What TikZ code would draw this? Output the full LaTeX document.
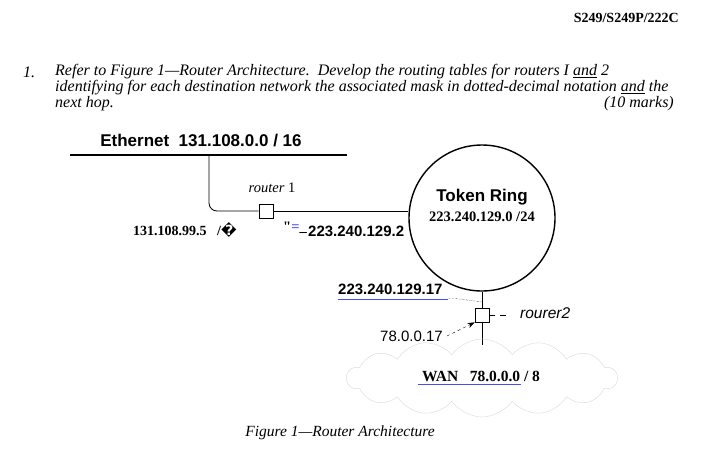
\documentclass[tikz,border=0pt]{standalone}
\usepackage{fontspec}
\setmainfont{Liberation Serif}
\newfontfamily\sansf{Liberation Sans}
\newfontfamily\dejav{DejaVu Sans}
\usetikzlibrary{shapes.symbols,arrows.meta}
\begin{document}
\begin{tikzpicture}[x=1pt,y=-1pt,
  para/.style={anchor=west,inner sep=0,font=\fontsize{16}{17}\selectfont\itshape},
  lbl/.style={inner sep=0,font=\fontsize{14.5}{17}\selectfont\bfseries},
  slbl/.style={inner sep=0,font=\sansf\fontsize{14.5}{17}\selectfont},
  rbox/.style={draw,thick,fill=white,minimum size=14pt,inner sep=0},
  blueul/.style={draw=blue!70,double=white,double distance=1pt,line width=0.5pt}]
\useasboundingbox (0,0) rectangle (722,451);
% header
\node[inner sep=0,anchor=east,font=\bfseries\fontsize{14}{16}\selectfont] (hdr) at (679,18) {S249/S249P/222C};
\node[para] (num) at (23,72) {1.};
\node[para] (l1) at (55,72) {Refer to Figure 1---Router Architecture.\ \ Develop the routing tables for routers I \underline{and} 2};
\node[para] (l2) at (55,88) {identifying for each destination network the associated mask in dotted-decimal notation \underline{and} the};
\node[para] (l3) at (55,104) {next hop.};
\node[para,anchor=east] (marks) at (674,104) {(10 marks)};
% ethernet
\coordinate (e1) at (70,155); \coordinate (e2) at (347,155);
\draw[line width=1.8pt] (e1) -- (e2);
\node[slbl,font=\sansf\bfseries\fontsize{17}{18}\selectfont] (eth) at (201,141) {Ethernet\ \ 131.108.0.0 / 16};
% token ring
\node[draw,circle,minimum size=146pt,line width=1.4pt] (ring) at (482,218) {};
\node[slbl,font=\sansf\bfseries\fontsize{17}{18}\selectfont] (tr) at (482,197) {Token Ring};
\node[lbl] (trn) at (482,217) {223.240.129.0 /24};
% router 1
\coordinate (c1) at (209,155);
\node[rbox] (r1) at (266,211) {};
\draw[rounded corners=8pt,thick] (c1) |- (r1.west);
\draw[thick] (r1.east) -- (ring.west |- r1.east);
\node[inner sep=0,font=\fontsize{14.5}{17}\selectfont] (r1l) at (272,188) {\textit{router} 1};
\node[lbl,anchor=west,font=\bfseries\fontsize{14}{16}\selectfont] (ip1) at (133,230) {131.108.99.5\ \ \ /{\dejav\char"FFFD}};
\node[lbl,anchor=west] (sym) at (283,228) {\textquotedbl{\color{blue!70}=}\_};
\node[lbl,anchor=west,font=\sansf\bfseries\fontsize{15}{17}\selectfont] (ip2) at (308,231) {223.240.129.2};
% router 2
\node[rbox] (r2) at (482,315) {};
\coordinate (wtop) at (482,345);
\draw[thick] (ring.south) -- (r2.north);
\draw[thick] (r2.south) -- (wtop);
\coordinate (dd) at (510,315);
\draw[dash pattern=on 6pt off 5pt] (r2.east) -- (dd);
\node[slbl,anchor=west,font=\sansf\itshape\fontsize{15.5}{18}\selectfont] (r2l) at (520,313) {rourer2};
\node[slbl,anchor=west,font=\sansf\bfseries\fontsize{15}{17}\selectfont] (ip3) at (338,289) {223.240.129.17};
\draw[blueul] (ip3.south west) ++(0,4) -- ++(110,0) coordinate (u3);
\draw[densely dotted] (u3) -- ++(8,0) -- (482,302);
\node[slbl,anchor=west,font=\sansf\fontsize{15}{17}\selectfont] (ip4) at (380,336) {78.0.0.17};
\draw[-{Stealth[length=7pt]},dashed] (ip4.east) ++(4,0) -- (r2.south west);
% WAN cloud
\node[cloud,draw=gray!30,cloud puffs=14,cloud puff arc=110,aspect=4,minimum width=270pt,minimum height=78pt] (wan) at (482,378) {};
\node[lbl,font=\bfseries\fontsize{15.5}{18}\selectfont] (wanl) at (481,376) {WAN\ \ \ 78.0.0.0\ / 8};
\draw[draw=blue!70,line width=0.6pt] (418,384) -- (521,384);
% caption
\node[inner sep=0,font=\fontsize{15.5}{18}\selectfont\itshape] (cap) at (340,433) {Figure 1---Router Architecture};
\end{tikzpicture}
\end{document}
